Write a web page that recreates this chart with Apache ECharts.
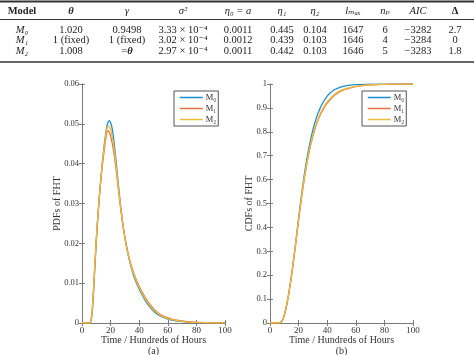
<!DOCTYPE html>
<html><head><meta charset="utf-8">
<script src="https://cdn.jsdelivr.net/npm/echarts@6/dist/echarts.min.js"></script>
<style>html,body{margin:0;padding:0;background:#fff}#c{width:474px;height:355px}</style>
</head><body><div id="c"></div><script>
// ---- table data ----
const tableHeader = ['Model', 'θ', 'γ', 'σ²', 'η₀ = a', 'η₁', 'η₂', 'lₘₐₓ', 'nₚ', 'AIC', 'Δ'];
const rowM0 = ['M₀', '1.020', '0.9498', '3.33 × 10⁻⁴', '0.0011', '0.445', '0.104', '1647', '6', '−3282', '2.7'];
const rowM1 = ['M₁', '1 (fixed)', '1 (fixed)', '3.02 × 10⁻⁴', '0.0012', '0.439', '0.103', '1646', '4', '−3284', '0'];
const rowM2 = ['M₂', '1.008', '={b|θ}', '2.97 × 10⁻⁴', '0.0011', '0.442', '0.103', '1646', '5', '−3283', '1.8'];

// ---- chart data ----
const seriesNames = ['M₀', 'M₁', 'M₂'];
const timeX = [0,5,6,7,8,9,10,11,12,13,14,15,16,17,18,19,20,21,22,23,24,25,26,27,28,29,30,31,32,33,34,35,36,37,38,39,40,42,44,46,48,50,52,55,60,65,70,75,80,85,90,95,100];
const pdfM0 = [0,0,0.0002,0.002,0.0072,0.014,0.0205,0.026,0.031,0.0355,0.0395,0.043,0.046,0.0485,0.0502,0.0508,0.0503,0.049,0.0467,0.0435,0.04,0.0363,0.0328,0.0295,0.0265,0.0238,0.0214,0.0193,0.0175,0.0159,0.0145,0.0132,0.012,0.011,0.0101,0.0093,0.0085,0.0071,0.0058,0.0047,0.0038,0.003,0.0024,0.0017,0.001,0.0006,0.00035,0.0002,0.00011,0.00006,0.00003,0.00002,0.00001];
const pdfM1 = [0,0,0.0003,0.0028,0.0082,0.0148,0.021,0.0265,0.0312,0.0352,0.0388,0.0418,0.0446,0.0472,0.0483,0.0479,0.0469,0.0454,0.0434,0.041,0.0381,0.035,0.0318,0.0288,0.0261,0.0237,0.0215,0.0196,0.0179,0.0164,0.015,0.0138,0.0127,0.0117,0.0108,0.01,0.0092,0.0078,0.0065,0.0054,0.0044,0.0036,0.0029,0.0021,0.0013,0.0008,0.0005,0.0003,0.00018,0.0001,0.00006,0.00004,0.00002];
const pdfM2 = [0,0,0.0003,0.0026,0.0079,0.0146,0.0209,0.0265,0.0313,0.0356,0.0393,0.0426,0.0455,0.048,0.0494,0.0493,0.0485,0.047,0.0449,0.0421,0.0389,0.0355,0.0322,0.0291,0.0262,0.0237,0.0215,0.0195,0.0177,0.0162,0.0148,0.0135,0.0124,0.0114,0.0105,0.0097,0.0089,0.0075,0.0062,0.0051,0.0041,0.0033,0.0027,0.0019,0.0011,0.0007,0.0004,0.00024,0.00014,0.00008,0.00004,0.00002,0.00001];
const cdfM0 = [0,0,0.0001,0.001,0.005,0.015,0.032,0.055,0.084,0.118,0.156,0.197,0.242,0.289,0.338,0.389,0.439,0.488,0.535,0.579,0.621,0.659,0.694,0.726,0.756,0.783,0.808,0.83,0.85,0.868,0.884,0.898,0.911,0.922,0.932,0.941,0.949,0.962,0.972,0.979,0.984,0.988,0.991,0.994,0.997,0.9983,0.9991,0.9995,0.9998,0.9999,1,1,1];
const cdfM1 = [0,0,0.0002,0.0013,0.006,0.017,0.034,0.058,0.087,0.12,0.157,0.197,0.24,0.285,0.332,0.38,0.428,0.475,0.52,0.563,0.603,0.64,0.674,0.705,0.733,0.759,0.782,0.803,0.822,0.84,0.855,0.869,0.882,0.893,0.903,0.912,0.92,0.935,0.947,0.957,0.965,0.971,0.976,0.982,0.989,0.993,0.996,0.9975,0.9985,0.9991,0.9995,0.9997,0.9998];
const cdfM2 = [0,0,0.0002,0.0012,0.0055,0.016,0.033,0.057,0.086,0.119,0.157,0.198,0.242,0.288,0.336,0.385,0.433,0.48,0.525,0.568,0.608,0.645,0.679,0.71,0.738,0.764,0.787,0.808,0.827,0.845,0.86,0.874,0.887,0.898,0.908,0.917,0.925,0.939,0.951,0.96,0.968,0.974,0.979,0.984,0.99,0.994,0.9965,0.998,0.9988,0.9993,0.9996,0.9998,0.9999];
const xAxisName = 'Time / Hundreds of Hours';
const yAxisNames = ['PDFs of FHT', 'CDFs of FHT'];
const panelLabels = ['(a)', '(b)'];

// ---- rendering ----
const SERIF = '"Liberation Serif", "DejaVu Serif", serif';
const FRAME = '#7a7a7a';
const COLORS = ['#1a8fd0', '#e8703a', '#efbb3a'];
const chart = echarts.init(document.getElementById('c'), null, {renderer: 'canvas'});

const pair = ys => timeX.map((x, i) => [x, ys[i]]);
const grids = [
  {left: 82, top: 84, width: 143, height: 239},
  {left: 270, top: 84, width: 143, height: 239}
];
const xAxes = [], yAxes = [];
const yCfg = [{max: 0.06, interval: 0.01, gap: 20}, {max: 1, interval: 0.1, gap: 16}];
grids.forEach((g, gi) => {
  const base = {gridIndex: gi, type: 'value', min: 0, max: 100, interval: 20, splitLine: {show: false},
    axisLine: {show: true, lineStyle: {color: FRAME, width: 1}},
    axisTick: {show: true, inside: true, length: 3, lineStyle: {color: FRAME}}};
  xAxes.push(Object.assign({}, base, {position: 'bottom',
    axisLabel: {color: '#333', fontSize: 9, fontFamily: SERIF, margin: 3},
    name: xAxisName, nameLocation: 'middle', nameGap: 12, nameMoveOverlap: false,
    nameTextStyle: {color: '#333', fontSize: 10, fontFamily: SERIF}}));
  xAxes.push(Object.assign({}, base, {position: 'top', axisLabel: {show: false}}));
  const yb = {gridIndex: gi, type: 'value', min: 0, max: yCfg[gi].max, interval: yCfg[gi].interval, splitLine: {show: false},
    axisLine: {show: true, lineStyle: {color: FRAME, width: 1}},
    axisTick: {show: true, inside: true, length: 3, lineStyle: {color: FRAME}}};
  yAxes.push(Object.assign({}, yb, {position: 'left',
    axisLabel: {color: '#333', fontSize: 8.5, fontFamily: SERIF, margin: 3},
    name: yAxisNames[gi], nameLocation: 'middle', nameGap: yCfg[gi].gap, nameMoveOverlap: false,
    nameTextStyle: {color: '#333', fontSize: 10, fontFamily: SERIF}}));
  yAxes.push(Object.assign({}, yb, {position: 'right', axisLabel: {show: false}}));
});

const series = [];
[[pdfM0, pdfM1, pdfM2], [cdfM0, cdfM1, cdfM2]].forEach((set, gi) => {
  set.forEach((ys, k) => {
    series.push({type: 'line', name: seriesNames[k], xAxisIndex: gi * 2, yAxisIndex: gi * 2,
      data: pair(ys), showSymbol: false, symbol: 'none', smooth: 0.2, animation: false,
      lineStyle: {color: COLORS[k], width: 1.3}, itemStyle: {color: COLORS[k]}, z: 2 + k});
  });
});

const legends = [174, 362].map(l => ({
  data: seriesNames, left: l, top: 91, orient: 'vertical', itemWidth: 23, itemHeight: 9, itemGap: 2,
  padding: [2, 2, 2, 5], borderColor: '#555', borderWidth: 1, backgroundColor: '#fff',
  itemStyle: {opacity: 0}, lineStyle: {width: 1.5},
  textStyle: {fontSize: 8.5, fontFamily: SERIF, color: '#333', padding: [0, 0, 0, -2]}, selectedMode: false
}));

// table graphics
const colX = [22, 71, 127, 183, 238, 282, 315, 353, 385, 418, 455];
const headerFont = ['bold', 'bold italic', 'italic', 'italic', 'italic', 'italic', 'italic', 'italic', 'italic', 'italic', 'bold'];
const rowY = [30, 40.5, 51];
const graphics = [];
const TFS = 10.5;
function txt(text, x, y, fs, weight, style) {
  graphics.push({type: 'text', x: x, y: y, silent: true, style: {
    text: text, align: 'center', verticalAlign: 'middle', fill: '#222',
    fontSize: fs, fontFamily: SERIF, fontWeight: weight, fontStyle: style,
    rich: {b: {fontWeight: 'bold', fontStyle: 'italic', fontSize: fs, fontFamily: SERIF, fill: '#222'}}
  }});
}
tableHeader.forEach((h, i) => {
  const f = headerFont[i];
  txt(h, colX[i], 11, TFS, f.indexOf('bold') >= 0 ? 'bold' : 'normal', f.indexOf('italic') >= 0 ? 'italic' : 'normal');
});
[rowM0, rowM1, rowM2].forEach((row, r) => {
  row.forEach((v, i) => txt(v, colX[i], rowY[r], TFS, 'normal', i === 0 ? 'italic' : 'normal'));
});
[[1.5, 2], [19.5, 1], [62, 1.6]].forEach(([y, w]) => {
  graphics.push({type: 'line', silent: true, shape: {x1: 0, y1: y, x2: 474, y2: y}, style: {stroke: '#333', lineWidth: w}});
});
panelLabels.forEach((p, i) => {
  graphics.push({type: 'text', x: grids[i].left + grids[i].width / 2, y: 351.5, silent: true,
    style: {text: p, align: 'center', verticalAlign: 'middle', fill: '#333', fontSize: 10, fontFamily: SERIF}});
});

chart.setOption({
  backgroundColor: '#fff', animation: false,
  grid: grids, xAxis: xAxes, yAxis: yAxes, series: series, legend: legends, graphic: graphics
});
</script></body></html>
